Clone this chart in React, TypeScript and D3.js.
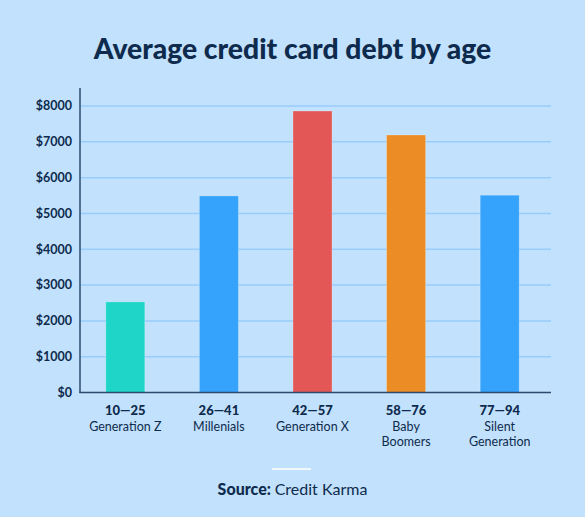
import { useEffect, useRef } from 'react';
import * as d3 from 'd3';

const ageRanges = ['10—25', '26—41', '42—57', '58—76', '77—94'];
const generations = [['Generation Z'], ['Millenials'], ['Generation X'], ['Baby', 'Boomers'], ['Silent', 'Generation']];
const debtValues = [2530, 5490, 7860, 7190, 5510];
const barColors = ['#1fd5c8', '#35a2fc', '#e35757', '#eb8c24', '#35a2fc'];
const yTicks = [0, 1000, 2000, 3000, 4000, 5000, 6000, 7000, 8000];

export default function App() {
  const svgRef = useRef<SVGSVGElement>(null);
  const width = 585;
  const height = 517;

  useEffect(() => {
    if (!svgRef.current) return;
    const svg = d3.select(svgRef.current);
    svg.selectAll('*').remove();

    const font = 'Lato, "Open Sans", sans-serif';
    const ink = '#0e2b4e';
    const margin = { top: 106, right: 34, bottom: 125, left: 80 };

    svg.append('rect').attr('width', width).attr('height', height).attr('fill', '#c2e1fc');

    // Title
    svg.append('text')
      .attr('x', width / 2)
      .attr('y', 59)
      .attr('text-anchor', 'middle')
      .attr('font-size', '28.3px')
      .attr('font-weight', '900')
      .attr('fill', ink)
      .style('font-family', font)
      .text('Average credit card debt by age');

    const x = d3.scaleBand<string>()
      .domain(ageRanges)
      .range([78.5, 546.5])
      .paddingInner(0.583)
      .paddingOuter(0.2915);

    const y = d3.scaleLinear()
      .domain([0, 8000])
      .range([height - margin.bottom + 0.5, margin.top]);

    // Grid lines
    svg.append('g')
      .selectAll('line')
      .data(yTicks.filter(t => t > 0))
      .enter()
      .append('line')
      .attr('x1', margin.left)
      .attr('x2', 551)
      .attr('y1', d => y(d))
      .attr('y2', d => y(d))
      .attr('stroke', '#97cdfb')
      .attr('stroke-width', 1.5);

    // Y tick labels
    svg.append('g')
      .selectAll('text')
      .data(yTicks)
      .enter()
      .append('text')
      .attr('x', 72)
      .attr('y', d => y(d))
      .attr('dy', '0.35em')
      .attr('text-anchor', 'end')
      .attr('font-size', '12.5px')
      .attr('font-weight', '700')
      .attr('fill', ink)
      .style('font-family', font)
      .text(d => `$${d}`);

    // Bars
    svg.append('g')
      .selectAll('rect')
      .data(debtValues)
      .enter()
      .append('rect')
      .attr('x', (d, i) => x(ageRanges[i]) as number)
      .attr('y', d => y(d))
      .attr('width', x.bandwidth())
      .attr('height', d => y(0) - y(d))
      .attr('fill', (d, i) => barColors[i])
      .attr('stroke', 'rgba(255,255,255,0.25)')
      .attr('stroke-width', 1);

    // Axes lines
    svg.append('line')
      .attr('x1', margin.left)
      .attr('x2', margin.left)
      .attr('y1', 88)
      .attr('y2', y(0))
      .attr('stroke', '#2c4a6e')
      .attr('stroke-width', 1.5);
    svg.append('line')
      .attr('x1', margin.left - 0.75)
      .attr('x2', 551)
      .attr('y1', y(0))
      .attr('y2', y(0))
      .attr('stroke', '#2c4a6e')
      .attr('stroke-width', 1.5);

    // Category labels
    const cats = svg.append('g')
      .selectAll('g')
      .data(ageRanges)
      .enter()
      .append('g')
      .attr('transform', d => `translate(${(x(d) as number) + x.bandwidth() / 2}, 0)`);

    cats.append('text')
      .attr('y', 415)
      .attr('text-anchor', 'middle')
      .attr('font-size', '13px')
      .attr('font-weight', '900')
      .attr('fill', ink)
      .style('font-family', font)
      .text(d => d);

    cats.each(function (d, i) {
      const g = d3.select(this);
      generations[i].forEach((line, j) => {
        g.append('text')
          .attr('y', 431 + j * 15)
          .attr('text-anchor', 'middle')
          .attr('font-size', '12.5px')
          .attr('font-weight', '400')
          .attr('fill', ink)
          .style('font-family', font)
          .text(line);
      });
    });

    // Separator and source
    svg.append('line')
      .attr('x1', 272)
      .attr('x2', 311)
      .attr('y1', 469)
      .attr('y2', 469)
      .attr('stroke', '#ffffff')
      .attr('stroke-width', 1.5);

    const source = svg.append('text')
      .attr('x', width / 2)
      .attr('y', 495)
      .attr('text-anchor', 'middle')
      .attr('font-size', '16px')
      .attr('fill', ink)
      .style('font-family', font);
    source.append('tspan').attr('font-weight', '900').text('Source: ');
    source.append('tspan').attr('font-weight', '400').text('Credit Karma');
  }, []);

  return (
    <svg
      ref={svgRef}
      width={width}
      height={height}
      style={{ position: 'absolute', top: 0, left: 0 }}
    />
  );
}
